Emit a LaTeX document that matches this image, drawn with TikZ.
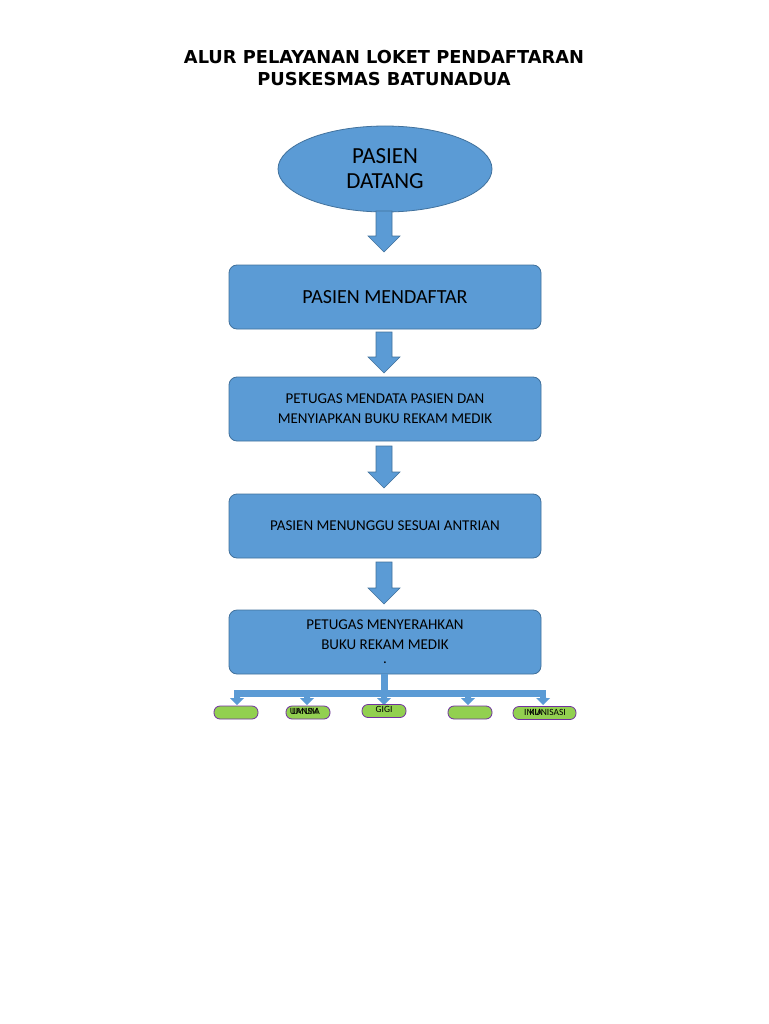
\documentclass[tikz,border=0pt]{standalone}
\usepackage{fontspec}
\setmainfont{Carlito}
\newfontfamily\titlefont{DejaVu Sans}
\usetikzlibrary{shapes.geometric}
\definecolor{bfill}{HTML}{5B9BD5}
\definecolor{bline}{HTML}{41719C}
\definecolor{gfill}{HTML}{92D050}
\definecolor{pline}{HTML}{7030A0}
\newcommand{\blkarrow}[3]{%
  \fill[bfill,draw=bline,line width=0.6pt] (#1-8,#2) -- (#1+8,#2) -- (#1+8,#3-16) -- (#1+16,#3-16) -- (#1,#3) -- (#1-16,#3-16) -- (#1-8,#3-16) -- cycle;}
\newcommand{\smallarrow}[1]{%
  \fill[bfill] (#1-3,697) -- (#1+3,697) -- (#1+3,698) -- (#1+7,698) -- (#1,705) -- (#1-7,698) -- (#1-3,698) -- cycle;}
\begin{document}
\begin{tikzpicture}[x=1pt,y=-1pt,
  box/.style={draw=bline,fill=bfill,rounded corners=8pt,line width=0.8pt,minimum width=312pt,minimum height=64pt,text=black,align=center},
  pill/.style={draw=pline,fill=gfill,rounded corners=6pt,line width=0.8pt,minimum width=44pt,minimum height=13pt,inner sep=0pt,font=\fontsize{9.5}{9.5}\selectfont},
  ptxt/.style={font=\fontsize{9.5}{9.5}\selectfont,inner sep=0pt}]
\useasboundingbox (0,0) rectangle (768,1024);
\node[font=\titlefont\bfseries\fontsize{17.8}{22}\selectfont,align=center] (title) at (384,68) {ALUR PELAYANAN LOKET PENDAFTARAN\\PUSKESMAS BATUNADUA};
\node[ellipse,draw=bline,fill=bfill,line width=0.8pt,minimum width=214pt,minimum height=86pt,inner sep=0pt,align=center,font=\fontsize{23}{25}\selectfont] (e) at (385,169) {PASIEN\\DATANG};
\node[box,font=\fontsize{20}{22}\selectfont] (b1) at (385,297) {PASIEN MENDAFTAR};
\node[box,font=\fontsize{15}{20}\selectfont] (b2) at (385,409) {PETUGAS MENDATA PASIEN DAN\\MENYIAPKAN BUKU REKAM MEDIK};
\node[box,font=\fontsize{15}{17}\selectfont] (b3) at (385,526) {PASIEN MENUNGGU SESUAI ANTRIAN};
\node[box,font=\fontsize{15}{20}\selectfont] (b4) at (385,642) {PETUGAS MENYERAHKAN\\BUKU REKAM MEDIK\\[-6pt].};
\blkarrow{384}{211}{252}
\blkarrow{384}{332}{373}
\blkarrow{384}{446}{488}
\blkarrow{384}{562}{604}
\fill[bfill] (381,674) rectangle (388,692);
\fill[bfill] (234,690) rectangle (546,697);
\foreach \x in {237,307,384,468,543}{\smallarrow{\x}}
\node[pill] (p1) at (236,712.5) {};
\node[pill] (p2) at (308,712.5) {};
\node[ptxt] (t2a) at (304,711) {UMUM};
\node[ptxt] (t2b) at (306,711) {LANSIA};
\node[pill] (p3) at (384,711) {};
\node[ptxt] (t3) at (384,709) {GIGI};
\node[pill] (p4) at (470,712.5) {};
\node[pill,minimum width=63pt] (p5) at (544.5,713) {};
\node[ptxt] (t5a) at (536,712) {KIA};
\node[ptxt] (t5b) at (545,712) {IMUNISASI};
\end{tikzpicture}
\end{document}
